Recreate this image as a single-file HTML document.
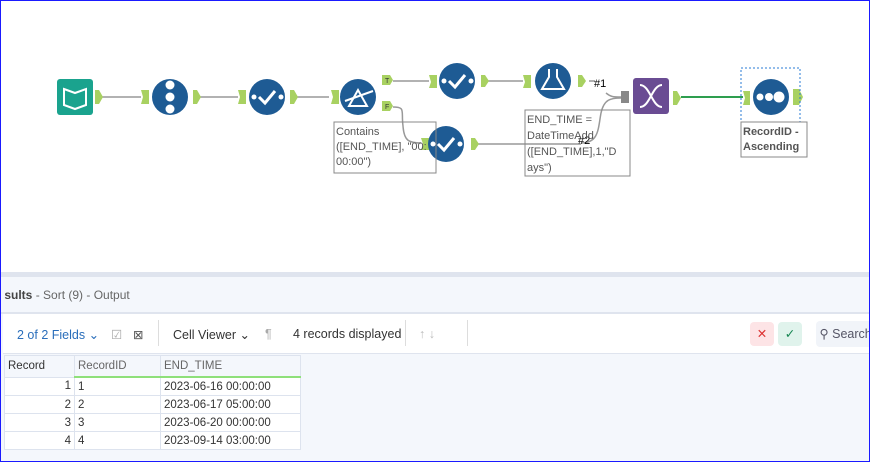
<!DOCTYPE html>
<html><head><style>
body{margin:0;width:870px;height:462px;overflow:hidden;font-family:"Liberation Sans",sans-serif;background:#f4f7fc;}
#wrap{position:absolute;left:0;top:0;width:868px;height:460px;border:1px solid #1a1aff;overflow:hidden;}
#canvas{position:absolute;left:0;top:0;width:868px;height:271px;background:#fff;}
#sep{position:absolute;left:0;top:271px;width:868px;height:5px;background:#dfe4ee;}
#hdr{position:absolute;left:0;top:276px;width:868px;height:35px;background:#f4f7fc;font-size:12px;color:#666;line-height:36px;border-bottom:2px solid #dfe4ee;}
#tb{position:absolute;left:2px;top:313px;width:866px;height:39px;background:#fff;border-bottom:1px solid #dfe4ee;font-size:12.5px;color:#333;}
#tb span{position:absolute;top:13px;}
table{position:absolute;left:3px;top:354px;border-collapse:collapse;font-size:11.5px;color:#333;background:#fff;}
td,th{border:1px solid #dde3ee;height:17px;padding:0 3px;font-weight:normal;text-align:left;}
th{height:20px;background:#f4f7fc;}
</style></head><body><div id="wrap">
<div id="canvas"><svg width="868" height="271" font-family="Liberation Sans, sans-serif">
<g stroke="#999" stroke-width="1.5" fill="none">
<line x1="100" y1="96" x2="140" y2="96"/><line x1="198" y1="96" x2="237" y2="96"/>
<line x1="296" y1="96" x2="328" y2="96"/><line x1="392" y1="80" x2="428" y2="80"/>
<line x1="486" y1="80" x2="522" y2="80"/><line x1="588" y1="80" x2="594" y2="80"/>
<path d="M392 106 C405 106 400 110 402 125 C403 140 408 142 420 142"/>
<line x1="474" y1="143" x2="580" y2="143"/>
<path d="M580 142 C598 142 597 128 600 112 C603 98 610 97 620 97"/>
<path d="M605 92 C610 96 612 96 620 96"/>
</g>
<line x1="680" y1="96" x2="742" y2="96" stroke="#2e9e4f" stroke-width="2"/>
<g fill="#a8d161">
<path d="M94 89h4l4 7-4 7h-4z"/><path d="M140 89h8v14h-8l2-7z"/>
<path d="M192 89h4l4 7-4 7h-4z"/><path d="M237 89h8v14h-8l2-7z"/>
<path d="M289 89h4l4 7-4 7h-4z"/><path d="M330 89h8v14h-8l2-7z"/>
<path d="M381 74h8l3 5-3 5h-8z"/><path d="M381 100h8l3 5-3 5h-8z"/>
<path d="M428 74h8v13h-8l2-6z"/><path d="M480 74h4l4 6-4 6h-4z"/>
<path d="M522 74h8v13h-8l2-6z"/><path d="M577 74h4l4 6-4 6h-4z"/>
<path d="M420 137h8v12h-8l2-6z"/><path d="M470 137h4l4 6-4 6h-4z"/>
<path d="M672 90h4l4 7-4 7h-4z"/><path d="M742 90h7v14h-7l2-7z"/>
<path d="M792 88h6l4 8-4 8h-6z"/>
</g>
<text x="384" y="82" font-size="7" fill="#333">T</text><text x="384" y="108" font-size="7" fill="#333">F</text>
<rect x="620" y="90" width="8" height="12" fill="#888"/>
<rect x="56" y="78" width="36" height="36" rx="3" fill="#1aa38e"/>
<path d="M63 88 l11 4 11-4 v16 l-11 4 -11 -4z" fill="none" stroke="#fff" stroke-width="2"/>
<g fill="#1e5b94">
<circle cx="169" cy="96" r="18"/><circle cx="266" cy="96" r="18"/><circle cx="357" cy="96" r="18"/>
<circle cx="456" cy="80" r="18"/><circle cx="552" cy="80" r="18"/><circle cx="445" cy="143" r="18"/>
<circle cx="770" cy="96" r="18"/></g>
<g fill="#fff" font-size="8" font-weight="bold" text-anchor="middle">
<circle cx="169" cy="84" r="4.5"/><circle cx="169" cy="96" r="4.5"/><circle cx="169" cy="108" r="4.5"/></g>
<g stroke="#fff" stroke-width="3" fill="none">
<path d="M258 96l6 6 10-12"/><path d="M448 80l6 6 10-12"/><path d="M437 143l6 6 10-12"/>
<path d="M348 105l9-16 9 16z" stroke-width="2"/><line x1="344" y1="100" x2="372" y2="90" stroke-width="2"/>
<path d="M548 68v8l-7 12h22l-7-12v-8" stroke-width="2"/></g>
<g fill="#fff"><circle cx="253" cy="96" r="2.5"/><circle cx="280" cy="96" r="2.5"/>
<circle cx="443" cy="80" r="2.5"/><circle cx="470" cy="80" r="2.5"/><circle cx="432" cy="143" r="2.5"/><circle cx="459" cy="143" r="2.5"/>
<circle cx="759" cy="96" r="3.5"/><circle cx="768" cy="96" r="4"/><circle cx="778" cy="96" r="5.5"/></g>
<rect x="632" y="77" width="36" height="36" rx="3" fill="#6a4c93"/>
<path d="M639 84c10 0 12 22 22 22M639 106c10 0 12-22 22-22" stroke="#fff" stroke-width="2" fill="none"/>
<text x="593" y="86" font-size="11" fill="#000">#1</text><text x="577" y="143" font-size="11" fill="#000">#2</text>
<rect x="333" y="121" width="102" height="51" fill="none" stroke="#888"/>
<text font-size="11" fill="#555"><tspan x="335" y="134">Contains</tspan><tspan x="335" y="149">([END_TIME], "00:</tspan><tspan x="335" y="164">00:00")</tspan></text>
<rect x="524" y="109" width="105" height="66" fill="none" stroke="#888"/>
<text font-size="11" fill="#555"><tspan x="526" y="122">END_TIME =</tspan><tspan x="526" y="138">DateTimeAdd</tspan><tspan x="526" y="154">([END_TIME],1,"D</tspan><tspan x="526" y="170">ays")</tspan></text>
<rect x="740" y="67" width="59" height="89" fill="none" stroke="#2a7bd6" stroke-dasharray="2,2"/>
<rect x="740" y="121" width="66" height="35" fill="#fff" stroke="#888"/>
<text font-size="11" fill="#555" font-weight="bold"><tspan x="742" y="134">RecordID -</tspan><tspan x="742" y="149">Ascending</tspan></text>
</svg></div>
<div id="sep"></div>
<div id="hdr">&nbsp;<b style="color:#444">sults</b> - Sort (9) - Output</div>
<div id="tb">
<span style="left:14px;color:#2a6ebb">2 of 2 Fields ⌄</span>
<span style="left:108px;color:#aaa">☑</span><span style="left:130px;color:#555">⊠</span>
<span style="left:155px;top:6px;width:1px;height:26px;background:#ddd"></span>
<span style="left:170px">Cell Viewer ⌄</span><span style="left:262px;color:#aaa">¶</span>
<span style="left:290px">4 records displayed</span>
<span style="left:402px;top:6px;width:1px;height:26px;background:#ddd"></span>
<span style="left:416px;color:#bbb">↑ ↓</span>
<span style="left:464px;top:6px;width:1px;height:26px;background:#ddd"></span>
<span style="left:747px;top:8px;width:24px;height:24px;background:#fde4e6;border-radius:4px;color:#d33;text-align:center;line-height:24px">✕</span>
<span style="left:775px;top:8px;width:24px;height:24px;background:#e0f3ec;border-radius:4px;color:#198754;text-align:center;line-height:24px">✓</span>
<span style="left:813px;top:7px;width:60px;height:26px;background:#f1f4f9;border-radius:4px;line-height:26px;color:#556">&nbsp;⚲ Search</span>
</div>
<table>
<tr><th style="width:63px">Record</th><th style="width:79px;color:#666;border-bottom:2px solid #8fe07a">RecordID</th><th style="width:133px;color:#666;border-bottom:2px solid #8fe07a">END_TIME</th></tr>
<tr><td style="text-align:right">1</td><td>1</td><td>2023-06-16 00:00:00</td></tr>
<tr><td style="text-align:right">2</td><td>2</td><td>2023-06-17 05:00:00</td></tr>
<tr><td style="text-align:right">3</td><td>3</td><td>2023-06-20 00:00:00</td></tr>
<tr><td style="text-align:right">4</td><td>4</td><td>2023-09-14 03:00:00</td></tr>
</table>
</div></body></html>
